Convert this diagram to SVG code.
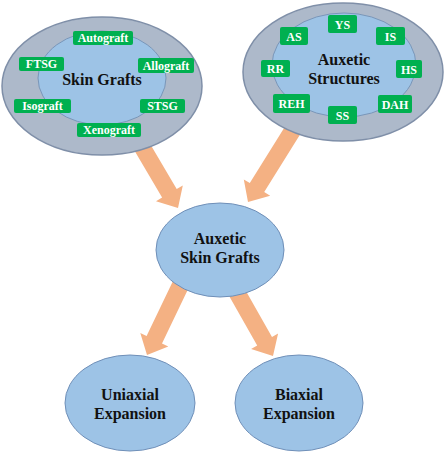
<svg xmlns="http://www.w3.org/2000/svg" width="445" height="453" viewBox="0 0 445 453">
<style>
.arrow{fill:#F4B183;stroke:none}
.outer{fill:#ADB9CA;stroke:#7F8FA8;stroke-width:1.5}
.inner{fill:#9DC3E6;stroke:#7A96B8;stroke-width:1}
.node{fill:#9DC3E6;stroke:#6F8FB8;stroke-width:1}
.tag{fill:#00B050;stroke:none}
.tagt{font-family:"Liberation Serif","Times New Roman",serif;font-weight:bold;font-size:12px;fill:#FFFFFF;text-anchor:middle}
.lbl{font-family:"Liberation Serif","Times New Roman",serif;font-weight:bold;font-size:16px;fill:#111111;text-anchor:middle}
</style>
<rect width="445" height="453" fill="#FFFFFF"/>
<g id="connectors">
<polygon class="arrow" points="145.3,135.7 176.7,189.0 182.8,185.4 178,208 156.0,201.2 162.1,197.6 130.7,144.3"/>
<polygon class="arrow" points="303.2,129.5 264.2,192.1 270.2,195.8 248,202 243.8,179.4 249.8,183.1 288.8,120.5"/>
<polygon class="arrow" points="189.7,285.7 162.0,343.4 168.3,346.4 147,355 140.3,333.0 146.6,336.0 174.3,278.3"/>
<polygon class="arrow" points="238.4,277.8 272.0,337.0 278.1,333.5 273,356 251.1,348.9 257.2,345.4 223.6,286.2"/>
</g>
<g id="skin-grafts">
<ellipse class="outer" cx="102" cy="86" rx="100" ry="69"/>
<ellipse class="inner" cx="102" cy="78" rx="64" ry="47"/>
<text class="lbl" x="102" y="85">Skin Grafts</text>
<rect class="tag" x="73" y="31" width="60" height="14" rx="2"/><text class="tagt" x="103" y="42">Autograft</text>
<rect class="tag" x="19" y="57" width="45" height="14" rx="2"/><text class="tagt" x="41.5" y="68">FTSG</text>
<rect class="tag" x="138" y="58" width="56" height="15" rx="2"/><text class="tagt" x="166" y="70">Allograft</text>
<rect class="tag" x="14" y="99" width="57" height="14" rx="2"/><text class="tagt" x="42.5" y="110">Isograft</text>
<rect class="tag" x="140" y="99" width="45" height="14" rx="2"/><text class="tagt" x="162.5" y="110">STSG</text>
<rect class="tag" x="77" y="123" width="64" height="14" rx="2"/><text class="tagt" x="109" y="134">Xenograft</text>
</g>
<g id="auxetic-structures">
<ellipse class="outer" cx="343" cy="72" rx="100" ry="69"/>
<ellipse class="inner" cx="344" cy="65" rx="72" ry="52"/>
<text class="lbl" x="344" y="65">Auxetic</text>
<text class="lbl" x="344" y="84">Structures</text>
<rect class="tag" x="328" y="15" width="29" height="18" rx="2"/><text class="tagt" x="342.5" y="28.5">YS</text>
<rect class="tag" x="280" y="27" width="28" height="18" rx="2"/><text class="tagt" x="294" y="40.5">AS</text>
<rect class="tag" x="376" y="27" width="29" height="18" rx="2"/><text class="tagt" x="390.5" y="40.5">IS</text>
<rect class="tag" x="261" y="60" width="29" height="17" rx="2"/><text class="tagt" x="275.5" y="73">RR</text>
<rect class="tag" x="396" y="60" width="26" height="18" rx="2"/><text class="tagt" x="409" y="73.5">HS</text>
<rect class="tag" x="273" y="94" width="37" height="19" rx="2"/><text class="tagt" x="291.5" y="108">REH</text>
<rect class="tag" x="328" y="106" width="29" height="18" rx="2"/><text class="tagt" x="342.5" y="119.5">SS</text>
<rect class="tag" x="378" y="95" width="34" height="18" rx="2"/><text class="tagt" x="395" y="108.5">DAH</text>
</g>
<g id="auxetic-skin-grafts">
<ellipse class="node" cx="220" cy="250" rx="64" ry="47"/>
<text class="lbl" x="220" y="244">Auxetic</text>
<text class="lbl" x="220" y="263">Skin Grafts</text>
</g>
<g id="uniaxial-expansion">
<ellipse class="node" cx="130" cy="403" rx="65" ry="48"/>
<text class="lbl" x="130" y="400">Uniaxial</text>
<text class="lbl" x="130" y="419">Expansion</text>
</g>
<g id="biaxial-expansion">
<ellipse class="node" cx="299" cy="403" rx="64" ry="48"/>
<text class="lbl" x="299" y="400">Biaxial</text>
<text class="lbl" x="299" y="419">Expansion</text>
</g>
</svg>
